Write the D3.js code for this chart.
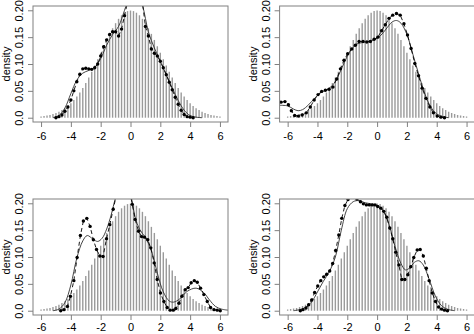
<!DOCTYPE html>
<html><head><meta charset="utf-8">
<script src="https://cdn.jsdelivr.net/npm/d3@7"></script>
<style>
html,body{margin:0;padding:0;background:#fff;}
svg{display:block;font-family:"Liberation Sans",Arial,Helvetica,sans-serif;}
</style></head><body>
<svg id="chart" width="474" height="334"></svg>
<script>
// ---- data ----
const xTicks = [-6, -4, -2, 0, 2, 4, 6];
const xTickLabels = ["-6", "-4", "-2", "0", "2", "4", "6"];
const yTicks = [0, 0.05, 0.10, 0.15, 0.20];
const yTickLabels = ["0.0", "0.05", "0.10", "0.15", "0.20"];
const yTitle = "density";

const spikeX = [-6,-5.8,-5.6,-5.4,-5.2,-5,-4.8,-4.6,-4.4,-4.2,-4,-3.8,-3.6,-3.4,-3.2,-3,-2.8,-2.6,-2.4,-2.2,-2,-1.8,-1.6,-1.4,-1.2,-1,-0.8,-0.6,-0.4,-0.2,
  0,0.2,0.4,0.6,0.8,1,1.2,1.4,1.6,1.8,2,2.2,2.4,2.6,2.8,3,3.2,3.4,3.6,3.8,4,4.2,4.4,4.6,4.8,5,5.2,5.4,5.6,5.8,6];
const spikeY = [0.0022,0.0030,0.0040,0.0052,0.0068,0.0088,0.0112,0.0142,0.0177,0.0220,0.0270,0.0328,0.0395,0.0470,0.0555,0.0648,0.0749,0.0857,0.0971,0.1089,0.1210,0.1330,0.1448,0.1561,0.1666,0.1760,0.1841,0.1907,0.1955,0.1985,
  0.1995,0.1985,0.1955,0.1907,0.1841,0.1760,0.1666,0.1561,0.1448,0.1330,0.1210,0.1089,0.0971,0.0857,0.0749,0.0648,0.0555,0.0470,0.0395,0.0328,0.0270,0.0220,0.0177,0.0142,0.0112,0.0088,0.0068,0.0052,0.0040,0.0030,0.0022];

const panel1Solid = [[-5.2,0],[-4.8,0.004],[-4.4,0.018],[-4.0,0.045],[-3.6,0.07],[-3.2,0.083],[-2.8,0.088],[-2.4,0.094],[-2.0,0.11],[-1.6,0.135],[-1.2,0.155],[-0.8,0.17],[-0.4,0.2],[0,0.23],[0.4,0.24],[0.8,0.21],[1.2,0.16],[1.6,0.13],[2.0,0.105],[2.4,0.08],[2.8,0.055],[3.2,0.032],[3.6,0.014],[4.0,0.004],[4.4,0.001],[4.8,0]];
const panel1Dots = [[-5.0,0.0],[-4.8,0.002],[-4.6,0.005],[-4.4,0.012],[-4.2,0.02],[-4.0,0.033],[-3.8,0.05],[-3.6,0.067],[-3.4,0.081],[-3.2,0.091],[-3.0,0.092],[-2.8,0.091],[-2.6,0.09],[-2.4,0.093],[-2.2,0.1],[-2.0,0.115],[-1.8,0.132],[-1.6,0.145],[-1.4,0.155],[-1.2,0.16],[-1.0,0.16],[-0.8,0.152],[-0.6,0.165],[-0.4,0.19],[-0.2,0.215],[0,0.235],[0.2,0.24],[0.4,0.235],[0.6,0.225],[0.8,0.215],[1.0,0.17],[1.2,0.152],[1.4,0.128],[1.6,0.12],[1.8,0.115],[2.0,0.105],[2.2,0.093],[2.4,0.08],[2.6,0.066],[2.8,0.052],[3.0,0.038],[3.2,0.025],[3.4,0.014],[3.6,0.006],[3.8,0.002],[4.0,0.001],[4.2,0.0]];

const panel2Solid = [[-6.54,0.023],[-6.0,0.022],[-5.6,0.016],[-5.3,0.013],[-5.0,0.015],[-4.6,0.024],[-4.2,0.036],[-3.8,0.046],[-3.4,0.052],[-3.0,0.06],[-2.6,0.078],[-2.2,0.103],[-1.8,0.124],[-1.4,0.136],[-1.0,0.14],[-0.6,0.142],[-0.2,0.145],[0.2,0.152],[0.6,0.165],[1.0,0.178],[1.3,0.181],[1.6,0.176],[2.0,0.155],[2.4,0.118],[2.8,0.08],[3.2,0.045],[3.6,0.02],[4.0,0.007],[4.4,0.002],[4.8,0]];
const panel2Dots = [[-6.45,0.029],[-6.18,0.030],[-5.95,0.024],[-5.75,0.013],[-5.53,0.004],[-5.28,0.003],[-5.03,0.005],[-4.75,0.009],[-4.48,0.02],[-4.22,0.033],[-3.96,0.043],[-3.72,0.049],[-3.47,0.051],[-3.22,0.053],[-2.96,0.057],[-2.71,0.072],[-2.46,0.091],[-2.22,0.107],[-1.97,0.119],[-1.7,0.128],[-1.46,0.135],[-1.21,0.142],[-0.94,0.142],[-0.69,0.141],[-0.45,0.142],[-0.2,0.146],[0.05,0.15],[0.3,0.162],[0.55,0.173],[0.8,0.185],[1.05,0.191],[1.3,0.194],[1.55,0.191],[1.8,0.175],[2.04,0.154],[2.28,0.129],[2.53,0.101],[2.78,0.078],[3.02,0.055],[3.28,0.036],[3.54,0.02],[3.78,0.009],[4.03,0.003],[4.28,0.001],[4.52,0]];

const panel3Solid = [[-5.2,0],[-4.8,0.003],[-4.4,0.015],[-4.0,0.048],[-3.6,0.098],[-3.2,0.13],[-2.9,0.14],[-2.5,0.133],[-2.2,0.129],[-1.9,0.135],[-1.6,0.152],[-1.3,0.178],[-1.0,0.21],[-0.7,0.23],[-0.4,0.238],[-0.1,0.228],[0.1,0.205],[0.3,0.175],[0.6,0.152],[1.0,0.136],[1.4,0.112],[1.8,0.07],[2.2,0.035],[2.6,0.018],[2.9,0.016],[3.3,0.022],[3.8,0.036],[4.4,0.042],[4.9,0.034],[5.3,0.02],[5.7,0.008],[6.1,0.003],[6.54,0.001]];
const panel3Dots = [[-4.68,0],[-4.46,0.002],[-4.23,0.008],[-4.03,0.027],[-3.8,0.056],[-3.58,0.099],[-3.36,0.14],[-3.16,0.167],[-2.93,0.172],[-2.71,0.157],[-2.49,0.132],[-2.28,0.114],[-2.06,0.102],[-1.84,0.101],[-1.61,0.134],[-1.39,0.16],[-1.16,0.189],[-0.95,0.215],[-0.73,0.235],[-0.51,0.245],[-0.29,0.24],[-0.08,0.225],[0.12,0.198],[0.31,0.17],[0.54,0.148],[0.74,0.138],[0.94,0.137],[1.16,0.132],[1.36,0.117],[1.59,0.089],[1.79,0.058],[2.01,0.033],[2.24,0.017],[2.46,0.006],[2.66,0.001],[2.87,0.001],[3.04,0.004],[3.25,0.014],[3.45,0.027],[3.67,0.039],[3.87,0.043],[4.07,0.052],[4.28,0.056],[4.48,0.053],[4.7,0.042],[4.92,0.03],[5.15,0.017],[5.37,0.006],[5.6,0.002],[5.82,0.001],[6.02,0]];

const panel4Solid = [[-5.6,0],[-5.2,0.002],[-4.8,0.006],[-4.4,0.016],[-4.0,0.035],[-3.6,0.055],[-3.2,0.073],[-2.8,0.1],[-2.4,0.15],[-2.0,0.19],[-1.6,0.203],[-1.2,0.205],[-0.8,0.201],[-0.4,0.199],[0.0,0.196],[0.4,0.186],[0.8,0.16],[1.2,0.12],[1.6,0.088],[1.9,0.076],[2.2,0.08],[2.5,0.09],[2.8,0.093],[3.1,0.085],[3.5,0.058],[3.9,0.028],[4.3,0.01],[4.7,0.003],[5.2,0]];
const panel4Dots = [[-5.15,0],[-4.97,0.002],[-4.77,0.005],[-4.59,0.011],[-4.39,0.02],[-4.19,0.034],[-3.98,0.046],[-3.78,0.056],[-3.58,0.063],[-3.38,0.068],[-3.18,0.074],[-2.98,0.088],[-2.78,0.112],[-2.57,0.141],[-2.37,0.172],[-2.16,0.196],[-1.95,0.207],[-1.75,0.212],[-1.55,0.212],[-1.35,0.208],[-1.12,0.203],[-0.92,0.199],[-0.72,0.197],[-0.52,0.197],[-0.32,0.197],[-0.14,0.197],[0.04,0.194],[0.25,0.191],[0.45,0.185],[0.65,0.174],[0.85,0.154],[1.05,0.134],[1.25,0.109],[1.46,0.085],[1.66,0.058],[1.86,0.058],[2.06,0.067],[2.26,0.082],[2.46,0.099],[2.69,0.113],[2.89,0.114],[3.1,0.102],[3.3,0.079],[3.49,0.056],[3.7,0.033],[3.92,0.017],[4.12,0.007],[4.32,0.003],[4.52,0.001],[4.72,0]];

const panels = [
  {solid: panel1Solid, dots: panel1Dots},
  {solid: panel2Solid, dots: panel2Dots},
  {solid: panel3Solid, dots: panel3Dots},
  {solid: panel4Solid, dots: panel4Dots}
];

// ---- layout ----
const colOffset = [0, 246.6];
const rowOffset = [0, 193];
const labelPad = [5, 3];
const box = {left: 33, right: 228, top: 6, bottom: 122};

const x = d3.scaleLinear().domain([-6.54, 6.54]).range([box.left, box.right]);
const y = d3.scaleLinear().domain([-0.008, 0.208]).range([box.bottom, box.top]);

const svg = d3.select("#chart");
const spikes = spikeX.map((v, i) => [v, spikeY[i]]);
const smooth = d3.line().x(d => x(d[0])).y(d => y(d[1])).curve(d3.curveCatmullRom.alpha(0.5));
const straight = d3.line().x(d => x(d[0])).y(d => y(d[1]));
const fontCss = "'Liberation Sans', Arial, sans-serif";

panels.forEach((p, i) => {
  const row = Math.floor(i / 2);
  const ox = colOffset[i % 2], oy = rowOffset[row];
  const g = svg.append("g").attr("transform", `translate(${ox},${oy})`);
  const clipId = "clip" + i;
  g.append("clipPath").attr("id", clipId).append("rect")
    .attr("x", box.left).attr("y", box.top)
    .attr("width", box.right - box.left).attr("height", box.bottom - box.top);

  const plot = g.append("g").attr("clip-path", `url(#${clipId})`);

  // spikes
  plot.selectAll("line.spike").data(spikes).join("line")
    .attr("class", "spike")
    .attr("x1", d => x(d[0])).attr("x2", d => x(d[0]))
    .attr("y1", y(0)).attr("y2", d => y(d[1]))
    .attr("stroke", "#9a9a9a").attr("stroke-width", 1.4);

  // solid smooth curve
  plot.append("path")
    .attr("d", smooth(p.solid))
    .attr("fill", "none").attr("stroke", "#303030").attr("stroke-width", 0.9);

  // dashed line with points
  plot.append("path")
    .attr("d", straight(p.dots))
    .attr("fill", "none").attr("stroke", "#000").attr("stroke-width", 0.9)
    .attr("stroke-dasharray", "4,3");
  plot.selectAll("circle").data(p.dots).join("circle")
    .attr("cx", d => x(d[0])).attr("cy", d => y(d[1])).attr("r", 1.7)
    .attr("fill", "#000");

  // box
  g.append("rect").attr("x", box.left).attr("y", box.top)
    .attr("width", box.right - box.left).attr("height", box.bottom - box.top)
    .attr("fill", "none").attr("stroke", "#808080").attr("stroke-width", 1);

  // x axis
  const xa = g.append("g").attr("transform", `translate(0,${box.bottom})`)
    .call(d3.axisBottom(x).tickValues(xTicks).tickFormat((d, k) => xTickLabels[k]).tickSize(5).tickPadding(labelPad[row]));
  xa.select(".domain").remove();
  xa.selectAll("line").attr("stroke", "#808080");
  xa.selectAll("text").attr("fill", "#000").style("font-size", "11px").style("font-family", fontCss);

  // y axis
  const ya = g.append("g").attr("transform", `translate(${box.left},0)`)
    .call(d3.axisLeft(y).tickValues(yTicks).tickFormat((d, k) => yTickLabels[k]).tickSize(5));
  ya.select(".domain").remove();
  ya.selectAll("line").attr("stroke", "#808080");
  ya.selectAll("text")
    .attr("x", 0).attr("y", -10).attr("dy", 0)
    .attr("text-anchor", "middle")
    .attr("transform", "rotate(-90)")
    .attr("fill", "#000").style("font-size", "11px").style("font-family", fontCss);

  // y title
  g.append("text")
    .attr("transform", `translate(10,${(box.top + box.bottom) / 2}) rotate(-90)`)
    .attr("text-anchor", "middle")
    .style("font-size", "11px").style("font-family", fontCss)
    .text(yTitle);
});
</script>
</body></html>
